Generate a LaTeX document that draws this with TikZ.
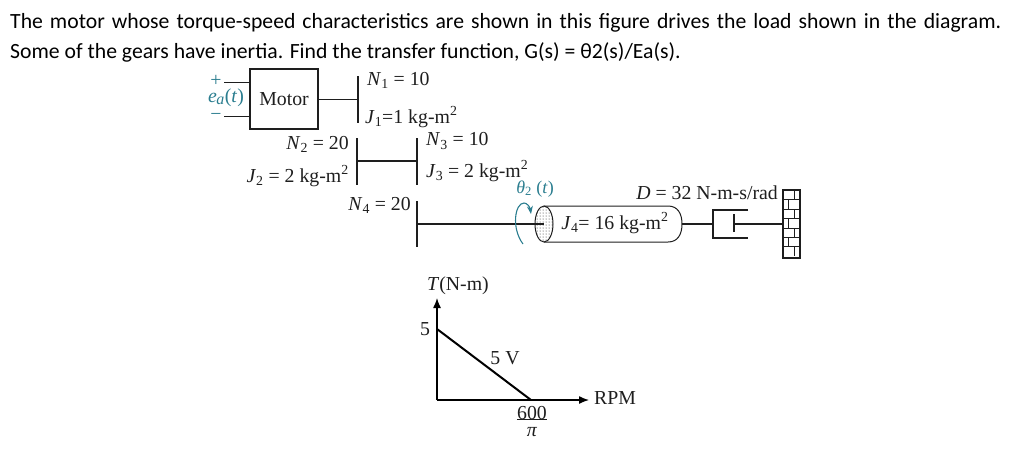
\documentclass[tikz,border=0pt]{standalone}
\usepackage{fontspec}
\setmainfont{Liberation Serif}
\newfontfamily\topfont{Carlito}
\usetikzlibrary{arrows.meta,patterns}
\definecolor{labelteal}{RGB}{42,125,143}
\definecolor{inkgray}{RGB}{30,30,30}
\newcommand{\isub}[2]{\textit{#1}\textsubscript{#2}}
\tikzset{
  lbl/.style={inner sep=0pt,font=\fontsize{19.8}{22}\selectfont,text=inkgray},
  tlbl/.style={lbl,text=labelteal},
  topline/.style={inner sep=0pt,anchor=base west,font=\topfont\fontsize{21.7}{24}\selectfont,text=black},
  shaft/.style={line width=1.4pt,draw=inkgray},
  gear/.style={line width=1.7pt,draw=inkgray},
  axis/.style={line width=1.3pt,-{Latex[length=10pt,width=8pt]}}
}
\begin{document}
\begin{tikzpicture}[x=1pt,y=-1pt]
  \useasboundingbox (0,0) rectangle (1024,459);

  \node[topline] (line1) at (10,28.5) {\makebox[991pt][s]{The motor whose torque-speed characteristics are shown in this figure drives the load shown in the diagram.}};
  \node[topline] (line2) at (10,58.5) {Some of the gears have inertia. Find the transfer function, G(s) = θ2(s)/Ea(s).};

  % motor
  \node (motor) at (284,99) [draw=inkgray,line width=1.4pt,minimum width=68pt,minimum height=60pt,inner sep=0pt,font=\fontsize{19.8}{22}\selectfont,text=inkgray] {Motor};
  \coordinate (inplus) at (224,82.7);
  \coordinate (inminus) at (224,116.7);
  \node[tlbl] (plus) at (216,80.5) {+};
  \node[tlbl] (minus) at (216,116.5) {−};
  \node[tlbl] (ea) at (226,98) {\textit{e}\kern-.5pt{\fontsize{16}{16}\selectfont\raisebox{-2pt}{\textit{a}}}\kern.5pt(\textit{t})};
  \draw[shaft] (inplus) -- (inplus -| motor.west);
  \draw[shaft] (inminus) -- (inminus -| motor.west);

  % gears
  \coordinate (g1top) at (358,76);
  \coordinate (g1bot) at (358,122.7);
  \coordinate (g2top) at (357,138);
  \coordinate (g2bot) at (357,185);
  \coordinate (g3top) at (417,138);
  \coordinate (g3bot) at (417,185);
  \coordinate (g4top) at (417,201);
  \coordinate (g4bot) at (417,247);
  \coordinate (g1mid) at (358,99.3);
  \coordinate (g2mid) at (357,161);
  \coordinate (g3mid) at (417,161);
  \coordinate (g4mid) at (417,224);
  \draw[gear] (g1top) -- (g1bot);
  \draw[gear] (g2top) -- (g2bot);
  \draw[gear] (g3top) -- (g3bot);
  \draw[gear] (g4top) -- (g4bot);
  \draw[shaft] (motor.east |- g1mid) -- (g1mid);
  \draw[shaft] (g2mid) -- (g3mid);

  \node[lbl,anchor=west] (n1) at (367,80) {\isub{N}{1} = 10};
  \node[lbl,anchor=west] (j1) at (365,117) {\isub{J}{1}=1 kg-m\textsuperscript{2}};
  \node[lbl,anchor=east] (n2) at (349,144) {\isub{N}{2} = 20};
  \node[lbl,anchor=east] (j2) at (349,176) {\isub{J}{2} = 2 kg-m\textsuperscript{2}};
  \node[lbl,anchor=west] (n3) at (426,141) {\isub{N}{3} = 10};
  \node[lbl,anchor=west] (j3) at (426,171) {\isub{J}{3} = 2 kg-m\textsuperscript{2}};
  \node[lbl,anchor=east] (n4) at (411,205) {\isub{N}{4} = 20};

  % load
  \coordinate (cylleft) at (544,224);
  \coordinate (cylright) at (682,224);
  \draw[line width=1pt,draw=inkgray] (544,206) -- (668,206) .. controls (678,206) and (682,214) .. (cylright)
     .. controls (682,234) and (678,242) .. (668,242) -- (544,242);
  \draw[line width=1pt,draw=inkgray,pattern=dots,pattern color=inkgray] (cylleft) ellipse (9 and 18);
  \draw[shaft] (g4mid) -- (cylleft);
  \node[lbl] (j4) at (615,223) {\isub{J}{4}= 16 kg-m\textsuperscript{2}};
  \node[tlbl,font=\fontsize{18}{20}\selectfont] (theta) at (535,189) {\isub{θ}{2} (\textit{t})};
  \draw[line width=1.1pt,draw=labelteal,-{Stealth[length=8pt,width=6pt]}] (523,244) .. controls (511,228) and (515,203) .. (524,203) .. controls (527,203) and (530,207) .. (531,214);

  % damper
  \coordinate (dashtop) at (748,210);
  \coordinate (dashbot) at (748,238);
  \coordinate (dashleft) at (713,224);
  \coordinate (pistontop) at (734,214);
  \coordinate (pistonbot) at (734,232);
  \coordinate (pistonmid) at (734,224);
  \coordinate (wallmid) at (783,224);
  \draw[shaft] (cylright) -- (dashleft);
  \draw[shaft] (dashtop) -- (713,210) -- (713,238) -- (dashbot);
  \draw[gear] (pistontop) -- (pistonbot);
  \draw[shaft] (pistonmid) -- (wallmid);
  \node[lbl,anchor=east] (damp) at (778,193) {\textit{D} = 32 N-m-s/rad};

  % wall
  \draw[line width=1.5pt,draw=inkgray] (783,190) rectangle (800,258);
  \foreach \yy in {199.5,209,218.5,228,237,246}
    \draw[line width=.6pt,draw=inkgray] (783,\yy) -- (800,\yy);
  \foreach \yy/\xx in {190/794,199.5/788,209/794,218.5/788,228/794,237/788,246/794}
    \draw[line width=.6pt,draw=inkgray] (\xx,\yy) -- (\xx,\yy+9.5);

  % torque-speed curve
  \coordinate (origin) at (437,400);
  \coordinate (ytop) at (437,298);
  \coordinate (xend) at (589,400);
  \coordinate (t5) at (437,329);
  \coordinate (w600) at (531,400);
  \draw[axis] (origin) -- (ytop);
  \draw[axis] (origin) -- (xend);
  \draw[line width=2pt] (t5) -- (w600);
  \node[lbl] (tlabel) at (458,286) {\textit{T}(N-m)};
  \node[lbl] (five) at (425,329) {5};
  \node[lbl] (fivev) at (505,358) {5 V};
  \node[lbl,anchor=west] (rpm) at (594,398) {RPM};
  \node[lbl] (nolo) at (532,413) {600};
  \node[lbl] (pi) at (532,432) {\textit{π}};
  \draw[line width=1.1pt,draw=inkgray] (nolo.south west) -- (nolo.south east);
\end{tikzpicture}
\end{document}
